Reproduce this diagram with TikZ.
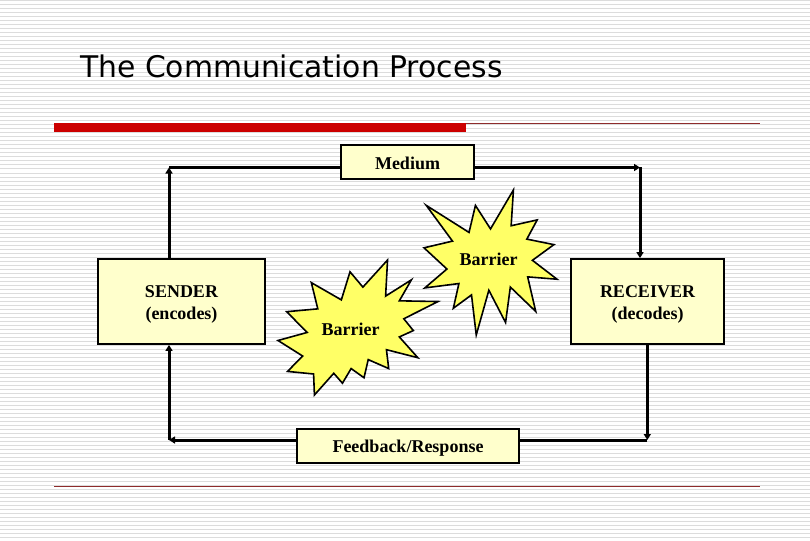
\documentclass[tikz,border=0pt]{standalone}
\usepackage{fontspec}
\setmainfont{Liberation Serif}
\newfontfamily\titlefont{DejaVu Sans}
\usetikzlibrary{arrows.meta}
\definecolor{boxfill}{HTML}{FFFFCC}
\definecolor{starfill}{HTML}{FFFF66}
\definecolor{barred}{HTML}{CC0000}
\definecolor{thinred}{HTML}{8E2B2B}
\definecolor{stripe}{HTML}{DCDCDC}
\tikzset{
  procbox/.style={draw=black, line width=1.8pt, fill=boxfill, inner sep=0pt,
    font=\fontsize{18}{22}\selectfont\bfseries, align=center, text depth=0pt},
  conn/.style={draw=black, line width=3pt},
  tipped/.style={conn, -{Triangle[length=6pt,width=7pt]}},
  starshape/.style={draw=black, line width=1.6pt, fill=starfill, line join=miter},
  startext/.style={font=\fontsize{18}{22}\selectfont\bfseries, inner sep=0pt}
}
\begin{document}
\begin{tikzpicture}[x=1pt,y=-1pt]
\useasboundingbox (0,0) rectangle (810,540);
\fill[white] (0,0) rectangle (810,540);
\foreach \yy in {1,5,...,539} \draw[stripe, line width=1pt] (0,\yy) -- (810,\yy);
% title and rules
\node[anchor=base west, inner sep=0pt, font=\titlefont\fontsize{29.8}{36}\selectfont] (title) at (80,77.5) {The Communication Process};
\fill[barred] (54,123) rectangle (466,132);
\draw[thinred, line width=0.9pt] (466,123.5) -- (760,123.5);
\draw[thinred, line width=0.9pt] (54,486) -- (760,486);
% boxes
\node[procbox, text height=16pt, minimum width=133pt, minimum height=34pt] (medium) at (407.5,162) {Medium};
\node[procbox, text height=36pt, minimum width=167pt, minimum height=85pt] (sender) at (181.5,301.5) {SENDER\\(encodes)};
\node[procbox, text height=36pt, minimum width=153pt, minimum height=85pt] (receiver) at (647.5,301.5) {RECEIVER\\(decodes)};
\node[procbox, text height=12.5pt, minimum width=222pt, minimum height=34pt] (feedback) at (408,446) {Feedback/Response};
% corner coordinates
\coordinate (c1) at (169,167.5);
\coordinate (c2) at (640,167.5);
\coordinate (c3) at (647.3,440);
\coordinate (c4) at (169,440);
% connectors
\draw[tipped] (sender.north -| c1) -- (c1);
\draw[conn] (c1) -- (c1 -| medium.west);
\draw[tipped] (c2 -| medium.east) -- (c2);
\draw[tipped] (c2) -- (c2 |- receiver.north);
\draw[tipped] (c3 |- receiver.south) -- (c3);
\draw[conn] (c3) -- (c3 -| feedback.east);
\draw[tipped] (c4 -| feedback.west) -- (c4);
\draw[tipped] (c4) -- (c4 |- sender.south);
% upper barrier (explosion 1)
\begin{scope}[shift={(424,190)}, xscale=1.33, yscale=1.45]
\draw[starshape] (50,26.85) -- (67.23,0) -- (65.53,24.65) -- (85.09,20.63) -- (77.32,33.87)
 -- (97.67,37.67) -- (81.51,48.50) -- (100,61.53) -- (77.95,59.92) -- (84.00,83.77)
 -- (64.91,66.93) -- (61.33,91.38) -- (48.76,69.14) -- (39.28,100) -- (35.72,72.35)
 -- (22.05,81.56) -- (26.24,64.52) -- (0.63,67.53) -- (17.23,54.51) -- (0,39.88)
 -- (21.42,35.26) -- (1.71,10.63) -- (33.85,29.26) -- (38.67,10.63) -- cycle;
\end{scope}
\node[startext] (barrier1) at (488.5,259) {Barrier};
% lower barrier (explosion 2)
\begin{scope}[shift={(278,260)}, xscale=1.60, yscale=1.35]
\draw[starshape] (53.06,20.10) -- (68.47,0) -- (67.25,26.75) -- (83.37,14.69) -- (75.83,30.24)
 -- (100,30.76) -- (78.63,43.53) -- (84.58,52.27) -- (75.83,56.99) -- (87.39,72.37)
 -- (67.78,66.44) -- (69.18,80.42) -- (56.39,73.77) -- (53.76,87.23) -- (45.70,80.42)
 -- (40.28,91.26) -- (34.85,83.91) -- (22.76,100) -- (22.25,84.44) -- (5.95,82.52)
 -- (15.42,71.16) -- (0,59.62) -- (18.22,53.67) -- (5.43,38.29) -- (24.87,36.19)
 -- (20.84,16.78) -- (39.58,29.55) -- (45.01,8.74) -- cycle;
\end{scope}
\node[startext] (barrier2) at (350.5,329) {Barrier};
\end{tikzpicture}
\end{document}
